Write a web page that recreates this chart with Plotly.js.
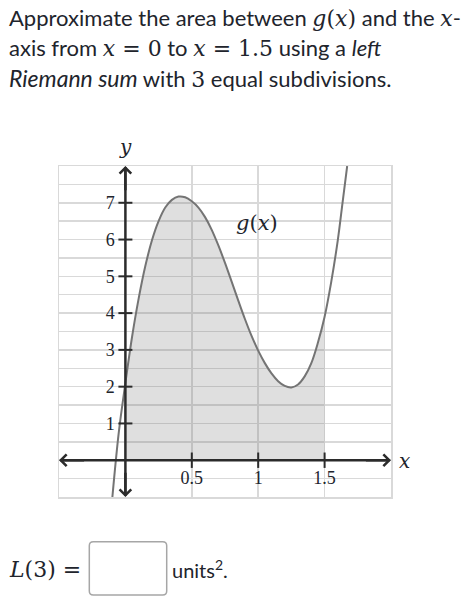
<!DOCTYPE html>
<html>
<head>
<meta charset="utf-8">
<script src="https://cdn.plot.ly/plotly-3.0.1.min.js"></script>
<style>
  html, body { margin: 0; padding: 0; background: #fff; }
  #chart { width: 474px; height: 600px; }
</style>
</head>
<body>
<div id="chart"></div>
<script>
// ---- data ----
const curveX = [-0.098, -0.05, 0, 0.05, 0.1, 0.15, 0.2, 0.25, 0.3, 0.35, 0.4, 0.45, 0.5, 0.55, 0.6, 0.65, 0.7, 0.75, 0.8, 0.85, 0.9, 0.95, 1.0, 1.05, 1.1, 1.15, 1.2, 1.25, 1.3, 1.35, 1.4, 1.45, 1.5, 1.55, 1.6, 1.635, 1.67];
const curveY = [-1, 0.75, 2.1, 3.35, 4.4, 5.28, 5.98, 6.5, 6.87, 7.08, 7.17, 7.15, 7.04, 6.87, 6.61, 6.265, 5.84, 5.365, 4.855, 4.34, 3.84, 3.38, 2.98, 2.64, 2.36, 2.15, 2.02, 1.98, 2.06, 2.28, 2.64, 3.2, 3.9, 4.85, 6.0, 7.0, 8.0];
const areaFrom = 0;
const areaTo = 1.5;
const xTickVals = [0.5, 1, 1.5];
const xTickText = ['0.5', '1', '1.5'];
const yTickVals = [1, 2, 3, 4, 5, 6, 7];
const yTickText = ['1', '2', '3', '4', '5', '6', '7'];
const xRange = [-0.5, 2];
const yRange = [-1, 8];

// ---- build ----
const fillX = [], fillY = [];
curveX.forEach((x, i) => { if (x >= areaFrom && x <= areaTo) { fillX.push(x); fillY.push(curveY[i]); } });

const ink = '#21242c';
const axisInk = '#2b2b2b';
const serif = 'Liberation Serif, DejaVu Serif, serif';
const mserif = 'DejaVu Serif, serif';
const mi = s => `<span style="font-family:${mserif};font-style:italic;font-size:22px">${s}</span>`;
const mu = s => `<span style="font-family:${mserif};font-size:22px">${s}</span>`;
const sp = '\u00a0';
const eq = mu(`${sp}=${sp}`);

const traces = [
  { x: fillX, y: fillY, type: 'scatter', mode: 'lines', fill: 'tozeroy',
    fillcolor: 'rgba(110,110,110,0.22)', line: { shape: 'spline', simplify: false, width: 0, color: 'rgba(0,0,0,0)' },
    hoverinfo: 'skip', showlegend: false },
  { x: curveX, y: curveY, type: 'scatter', mode: 'lines',
    line: { shape: 'spline', simplify: false, smoothing: 1, width: 2, color: '#747474' }, showlegend: false },
  { x: xTickVals, y: xTickVals.map(() => 0), xaxis: 'x2', yaxis: 'y', type: 'scatter', mode: 'markers',
    marker: { symbol: 'line-ns', size: 11, line: { width: 2, color: axisInk } }, showlegend: false, hoverinfo: 'skip' },
  { x: yTickVals.map(() => 0), y: yTickVals, xaxis: 'x', yaxis: 'y2', type: 'scatter', mode: 'markers',
    marker: { symbol: 'line-ew', size: 10, line: { width: 2, color: axisInk } }, showlegend: false, hoverinfo: 'skip' }
];

const gridColor = '#d9d9d9';
const arrow = (x, y, ax, ay) => ({ x, y, ax, ay, xref: 'x', yref: 'y', axref: 'x', ayref: 'y', text: '',
  showarrow: true, arrowhead: 4, arrowsize: 0.9, arrowwidth: 2.5, arrowcolor: axisInk, standoff: 0 });

const titleFont = { family: 'Lato, sans-serif', size: 22, color: ink };

const layout = {
  width: 474, height: 600,
  margin: { l: 59, r: 83, t: 166, b: 103 },
  paper_bgcolor: '#fff', plot_bgcolor: '#fff',
  showlegend: false,
  xaxis: { range: xRange, dtick: 0.5, tick0: 0, showgrid: true, gridcolor: gridColor, gridwidth: 1.5,
    zeroline: false, showticklabels: false, ticks: '', showline: true, mirror: true, linecolor: gridColor, linewidth: 1.5, fixedrange: true },
  yaxis: { range: yRange, dtick: 0.5, tick0: 0, showgrid: true, gridcolor: gridColor, gridwidth: 1.5,
    zeroline: false, showticklabels: false, ticks: '', showline: true, mirror: true, linecolor: gridColor, linewidth: 1.5, fixedrange: true },
  xaxis2: { overlaying: 'x', anchor: 'free', position: (0 - yRange[0]) / (yRange[1] - yRange[0]), side: 'bottom',
    range: xRange, tickvals: xTickVals, ticktext: xTickText, ticks: 'outside', ticklen: 1, tickcolor: 'rgba(0,0,0,0)',
    showgrid: false, zeroline: false, showline: false, tickfont: { family: serif, size: 18, color: ink }, fixedrange: true },
  yaxis2: { overlaying: 'y', anchor: 'free', position: (0 - xRange[0]) / (xRange[1] - xRange[0]), side: 'left',
    range: yRange, tickvals: yTickVals, ticktext: yTickText, ticks: 'outside', ticklen: 7, tickcolor: 'rgba(0,0,0,0)',
    showgrid: false, zeroline: false, showline: false, tickfont: { family: serif, size: 18, color: ink }, fixedrange: true },
  shapes: [
    { type: 'line', xref: 'x', yref: 'y', x0: xRange[0] + 0.01, x1: xRange[1] - 0.01, y0: 0, y1: 0,
      line: { color: axisInk, width: 2.5 } },
    { type: 'line', xref: 'x', yref: 'y', x0: 0, x1: 0, y0: yRange[0] + 0.03, y1: yRange[1] - 0.03,
      line: { color: axisInk, width: 2.5 } },
    { type: 'path', xref: 'paper', yref: 'paper',
      path: 'M 0.1033 -0.135 L 0.3124 -0.135 Q 0.3244 -0.135 0.3244 -0.147 L 0.3244 -0.284 Q 0.3244 -0.296 0.3124 -0.296 L 0.1033 -0.296 Q 0.0913 -0.296 0.0913 -0.284 L 0.0913 -0.147 Q 0.0913 -0.135 0.1033 -0.135 Z',
      line: { color: '#a6a6a6', width: 1.5 }, fillcolor: '#fff' }
  ],
  annotations: [
    arrow(xRange[0], 0, xRange[0] + 0.2, 0), arrow(xRange[1], 0, xRange[1] - 0.2, 0),
    arrow(0, yRange[1], 0, yRange[1] - 0.7), arrow(0, yRange[0], 0, yRange[0] + 0.7),
    { text: `Approximate the area between ${mi('g')}${mu('(')}${mi('x')}${mu(')')} and the ${mi('x')}-`,
      xref: 'paper', yref: 'paper', x: -0.157, y: 1.45, xanchor: 'left', yanchor: 'middle', showarrow: false, font: titleFont },
    { text: `axis from ${mi('x')}${eq}${mu('0')} to ${mi('x')}${eq}${mu('1.5')} using a <i>left</i>`,
      xref: 'paper', yref: 'paper', x: -0.157, y: 1.358, xanchor: 'left', yanchor: 'middle', showarrow: false, font: titleFont },
    { text: `<span style="font-size:23px"><i>Riemann sum</i></span> with ${mu('3')} equal subdivisions.`,
      xref: 'paper', yref: 'paper', x: -0.157, y: 1.266, xanchor: 'left', yanchor: 'middle', showarrow: false, font: titleFont },
    { text: '<i>y</i>', xref: 'paper', yref: 'paper', x: 0.2, y: 1.057, xanchor: 'center', yanchor: 'middle', showarrow: false,
      font: { family: mserif, size: 20, color: ink } },
    { text: '<i>x</i>', xref: 'paper', yref: 'paper', x: 1.042, y: 0.108, xanchor: 'center', yanchor: 'middle', showarrow: false,
      font: { family: mserif, size: 20, color: ink } },
    { text: '<i>g</i>(<i>x</i>)', xref: 'x', yref: 'y', x: 0.99, y: 6.44, showarrow: false,
      font: { family: mserif, size: 21, color: ink } },
    { text: `<i>L</i>(3)${sp}=`, xref: 'paper', yref: 'paper', x: -0.157, y: -0.218, xanchor: 'left', yanchor: 'middle',
      showarrow: false, font: { family: mserif, size: 22, color: ink } },
    { text: 'units<sup>2</sup>.', xref: 'paper', yref: 'paper', x: 0.335, y: -0.218, xanchor: 'left', yanchor: 'middle',
      showarrow: false, font: { family: 'Lato, sans-serif', size: 20, color: ink } }
  ]
};

Plotly.newPlot('chart', traces, layout, { displayModeBar: false, staticPlot: true });
</script>
</body>
</html>
